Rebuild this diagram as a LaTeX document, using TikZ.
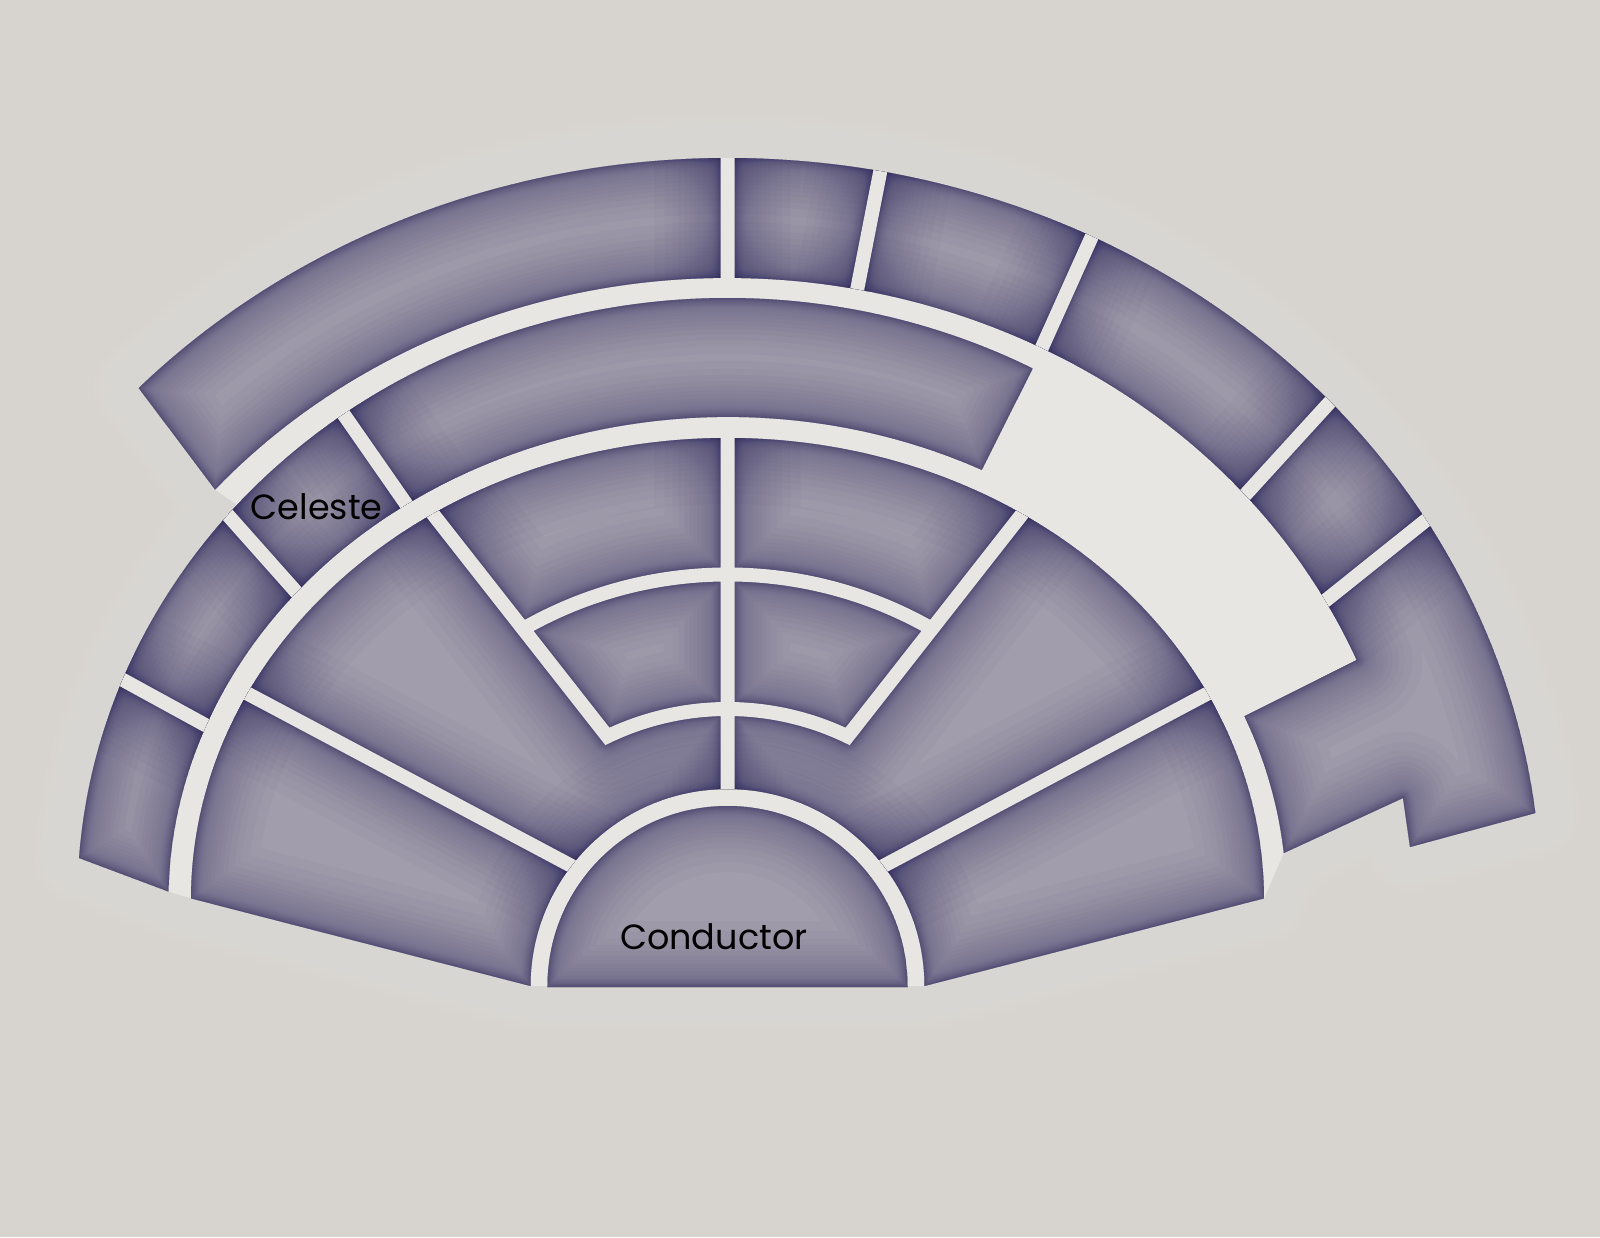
\documentclass[tikz,border=0pt]{standalone}
\usepackage{fontspec}
\setmainfont{Poppins}
\usetikzlibrary{calc}
\definecolor{bgc}{HTML}{D7D4CF}
\definecolor{gapc}{HTML}{E8E6E2}
\definecolor{seatbase}{HTML}{A29DAC}
\definecolor{shadowc}{HTML}{2E2860}
\tikzset{
  labeltext/.style={font=\fontsize{35}{42}\selectfont, text=black, inner sep=0pt, anchor=base},
  gapline/.style={gapc, line width=14pt, line join=miter},
}
% outlines (origin = ellipse centre, y up)
\newcommand\outA{(-180,-87) -- (180,-87) -- (180,-86) arc[start angle=0,end angle=180,radius=180] -- cycle}
\newcommand\outB{(-197,-86) -- (179.8:536.5 and 462) arc[start angle=179.8, end angle=0.2, x radius=536.5, y radius=462] -- (197,-86) arc[start angle=0,end angle=180,radius=197] -- cycle}
\newcommand\outC{(179:559 and 483) -- (176:650 and 602) arc[start angle=176, end angle=62, x radius=650, y radius=602] -- (62.93:559 and 483) arc[start angle=62.93, end angle=179, x radius=559, y radius=483] -- cycle}
\newcommand\outD{(136.37:813.5 and 742) arc[start angle=136.37, end angle=6.73, x radius=813.5, y radius=742] -- (682.5,53) -- (675.5,102) -- (5.58:559 and 483) arc[start angle=5.58, end angle=22.36, x radius=559, y radius=483] -- (22.7:682 and 622) arc[start angle=22.7, end angle=138.71, x radius=682, y radius=622] -- cycle}
% silhouette of the whole plan
\newcommand\hull{(136.37:813.5 and 742) arc[start angle=136.37, end angle=6.73, x radius=813.5, y radius=742] -- (682.5,53) -- (675.5,102) -- (5.58:559 and 483) -- (0.2:536.5 and 462) -- (197,-86) -- (180,-86) -- (180,-87) -- (-180,-87) -- (-180,-86) -- (-197,-86) -- (179.8:536.5 and 462) -- (179:559 and 483) -- (176:650 and 602) arc[start angle=176, end angle=139, x radius=650, y radius=602] -- (138.71:682 and 622) -- cycle}
% gap lines
\newcommand\gapB{(0,-100) -- (0,480) (-514.2,224.6) -- (-130.8,20.7) (514.2,224.6) -- (130.8,20.7) (-317.2,414.8) -- (-120.1,163.6) arc[start angle=115.7, end angle=64.3, radius=277] -- (317.2,414.8) (-208.8,268.6) arc[start angle=120.5, end angle=59.5, radius=411.5]}
\newcommand\gapC{(-619.2,228.1) -- (-502.5,164.2) (-510.3,396.9) -- (-415.7,290.5) (-394.1,500.4) -- (-307.9,376.6)}
\newcommand\gapD{(0,600) -- (0,760) (126.5,594.3) -- (156.5,747.7) (309.2,540.8) -- (372.3,681.2) (507,393.4) -- (615,511.7) (585.4,289.3) -- (712.1,390.7)}
\newcommand\seatgroup[2]{%
 \begin{scope}
  \clip #1;
  \fill[seatbase] #1;
  \foreach \d in {66,56,48,42,36,31,27,23,19,16,13,11,9,8,7,6,5.5,4.5,4,3.5,3,2.6,2.2,1.8,1.5,1.2,0.9,0.6,0.4}{%
   \draw[shadowc, opacity=.033, line width=2*\d, line join=round] #1;
   \draw[shadowc, opacity=.033, line width=14+2*\d, line join=round] #2;
  }
  \draw[gapline] #2;
 \end{scope}}
\begin{document}
\begin{tikzpicture}[x=1pt,y=1pt]
\useasboundingbox (-727.5,-337) rectangle (872.5,900);
\fill[bgc] (-727.5,-337) rectangle (872.5,900);
% faint halo round the plan
\foreach \w in {90,78,66,56,46,36,28,20,12}{%
  \draw[gapc, opacity=.06, line width=\w, line join=round] \hull;
}
% gaps and empty area
\fill[gapc] \hull;
\seatgroup{\outD}{\gapD}
\seatgroup{\outC}{\gapC}
\seatgroup{\outB}{\gapB}
\seatgroup{\outA}{(0,-300)}
\node[labeltext] (celeste) at (-410.8,380) {Celeste};
\node[labeltext] (conductor) at (-13.7,-49.3) {Conductor};
\end{tikzpicture}
\end{document}
